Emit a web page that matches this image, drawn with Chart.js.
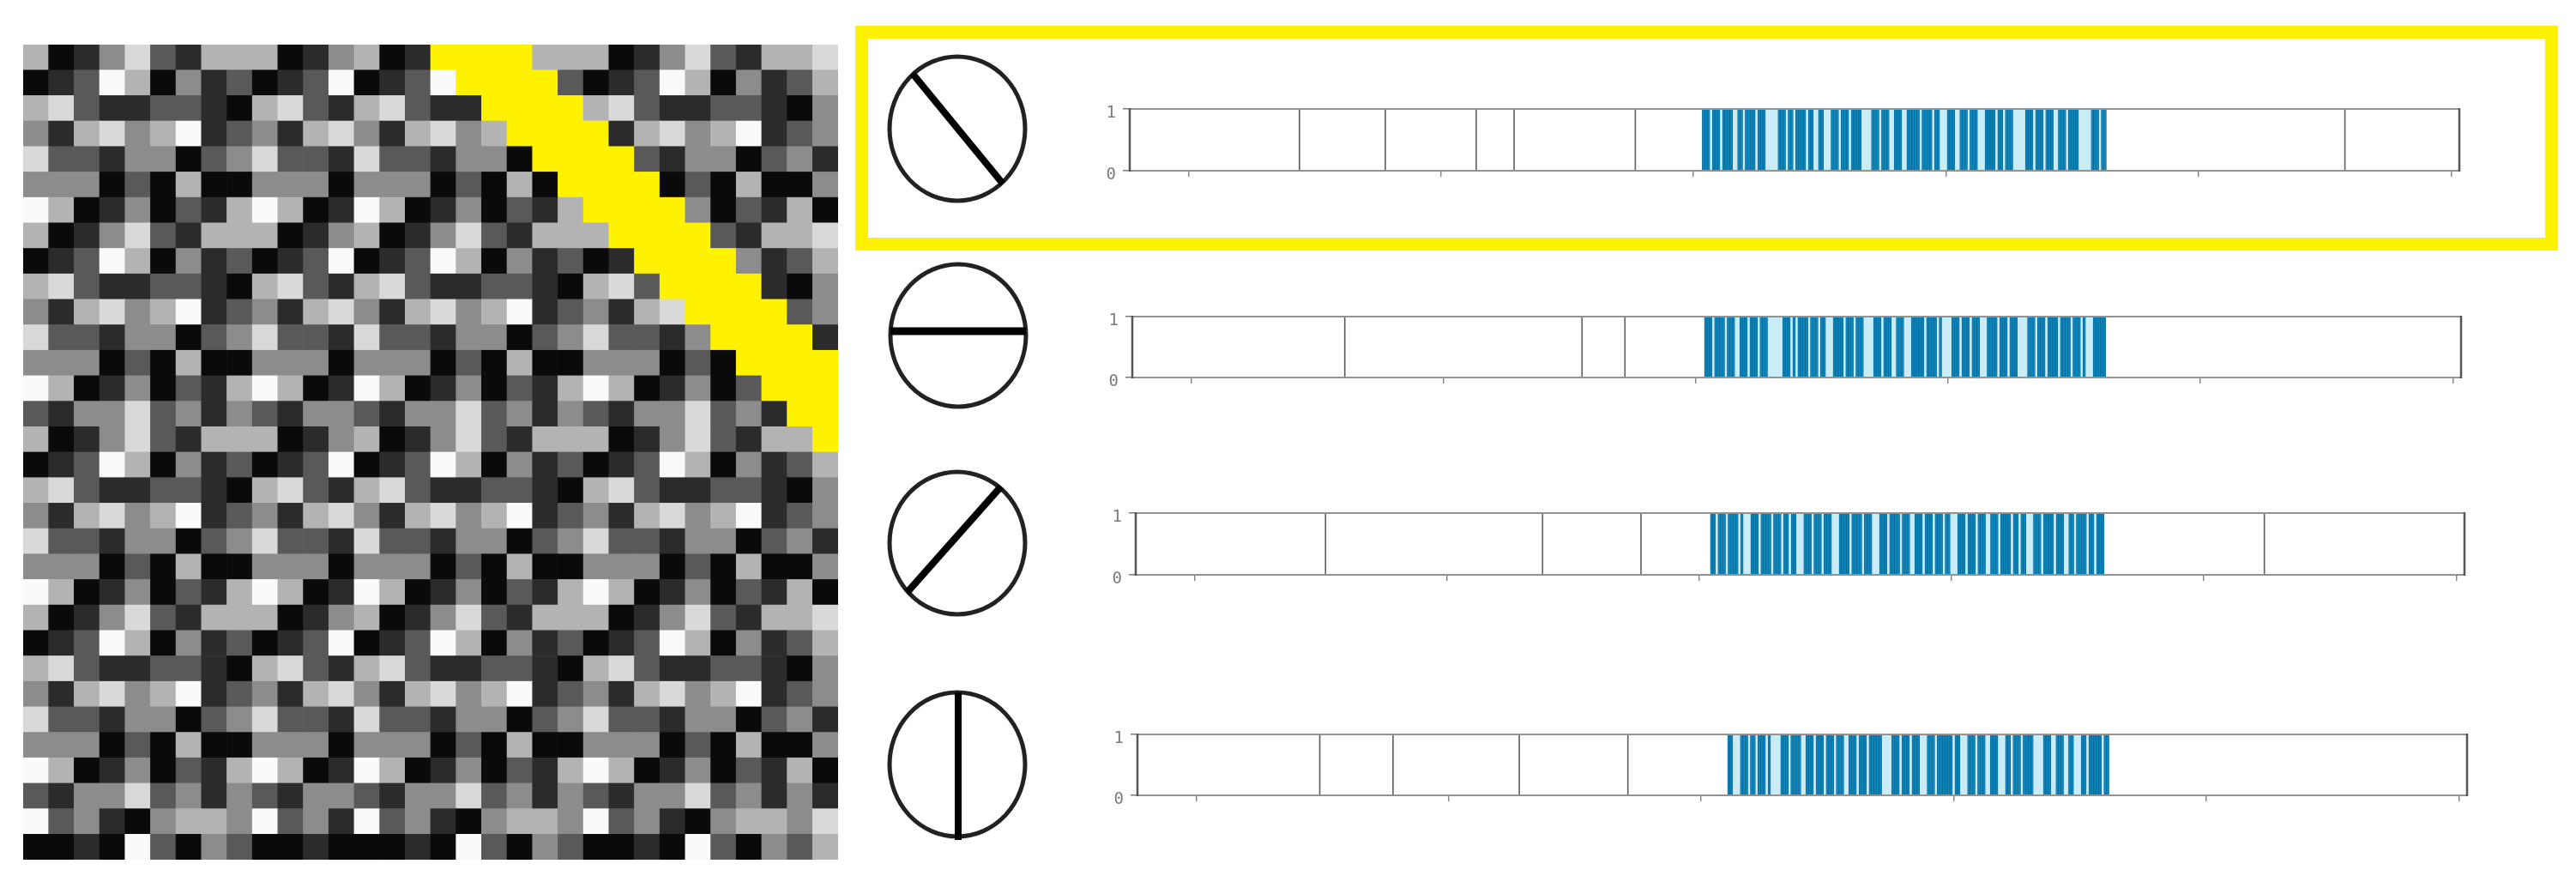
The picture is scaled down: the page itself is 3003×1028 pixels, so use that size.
<!DOCTYPE html>
<html>
<head>
<meta charset="utf-8">
<script src="https://cdn.jsdelivr.net/npm/chart.js@4.4.1/dist/chart.umd.min.js"></script>
<style>
  html, body { margin: 0; padding: 0; background: #ffffff; }
  body { width: 3003px; height: 1028px; position: relative; overflow: hidden; }
  canvas, svg, .highlight { position: absolute; }
  .highlight {
    left: 997px; top: 30px; width: 1985px; height: 262px;
    border: 15px solid #fff200; box-sizing: border-box;
  }
</style>
</head>
<body>

<div class="highlight"></div>

<!-- orientation icons -->
<svg width="3003" height="1028" style="left:0;top:0">
  <g fill="none" stroke="#222" stroke-width="5">
    <ellipse cx="1116" cy="150" rx="79" ry="84"/>
    <ellipse cx="1117" cy="391" rx="79" ry="83"/>
    <ellipse cx="1116" cy="633" rx="79" ry="83"/>
    <ellipse cx="1116" cy="891" rx="79" ry="84"/>
  </g>
  <g stroke="#000" stroke-width="8" stroke-linecap="butt">
    <line x1="1064" y1="86" x2="1169" y2="214"/>
    <line x1="1038" y1="386" x2="1196" y2="386" stroke-width="9"/>
    <line x1="1167" y1="567" x2="1057" y2="691"/>
    <line x1="1117" y1="807" x2="1117" y2="979"/>
  </g>
</svg>

<canvas id="pixels"></canvas>
<canvas id="strip1"></canvas>
<canvas id="strip2"></canvas>
<canvas id="strip3"></canvas>
<canvas id="strip4"></canvas>

<script>
// ---- data ----

// gray level per digit, Y = highlighted pixel
const grayLevels = ['#0a0a0a', '#2b2b2b', '#595959', '#8c8c8c', '#b3b3b3', '#d9d9d9', '#fafafa'];
const highlightColor = '#fff200';

// 32 x 32 pixel image, top row first
const pixelRows = [
  "4013521444013401YYYY444013521445",
  "01264031201260126YYYY20126403124",
  "452112210452145211YYYY4521122103",
  "3145346123145314534YYYY145346123",
  "52213302352215221330YYYY21330231",
  "333020400333033302040YYYY0204003",
  "6401302146401640130214YYYY302140",
  "40135214440134013521444YYYY21445",
  "012640312012601264031201YYYY3124",
  "4521122104521452112210452YYYY103",
  "31453461231453145346123145YYYY23",
  "522133023522152213302352213YYYY1",
  "3330204003330333020400333020YYYY",
  "64013021464016401302146401302YYY",
  "213352313213321335231321335231YY",
  "4013521444013401352144401352144Y",
  "01264031201260126403120126403124",
  "45211221045214521122104521122103",
  "31453461231453145346123145346123",
  "52213302352215221330235221330231",
  "33302040033303330204003330204003",
  "64013021464016401302146401302140",
  "40135214440134013521444013521445",
  "01264031201260126403120126403124",
  "45211221045214521122104521122103",
  "31453461231453145346123145346123",
  "52213302352215221330235221330231",
  "33302040033303330204003330204003",
  "64013021464016401302146401302140",
  "21335231321332133523132133523131",
  "62310344362316231034436231034435",
  "00106203200100010620320010620324"
];

// strip charts: x tick values and y tick labels
const xTickValues = [0, 100, 200, 300, 400, 500];
const yTickLabels = ['0', '1'];

// isolated hits outside the dense window
const sparseHits1 = [44, 78, 114, 129, 177, 458];
const sparseHits2 = [61, 155, 172];
const sparseHits3 = [52, 138, 177, 424];
const sparseHits4 = [49, 78, 128, 171];

// first sample of the dense window
const windowStart1 = 204;
const windowStart2 = 204;
const windowStart3 = 205;
const windowStart4 = 211;

// samples inside the window, 1 = hit
const windowBits1 =
  "111011101111001101111011100000" + "111011011110110011000" + "1110111011110000" +
  "11101110011100" + "1111101111011000" + "111001110111000" + "1111011011100000" +
  "1110111011100" + "1110111100000" + "111011";
const windowBits2 =
  "1110111101110011101110111000000" + "11101011110111011000" + "1111011101110000" +
  "111011100111000" + "1111101111010000" + "11101110111000" + "1111011101110000" +
  "11101110111101111011101000" + "11111";
const windowBits3 =
  "1101110111101000" + "111011110111011011000" + "11101110111000" +
  "1111011110111000" + "11101111011100" + "11101110111011000" + "1110111011100" +
  "11101111011011000" + "11101111011100" + "11011110110111";
const windowBits4 =
  "110001110110111010000" + "111011110011101110111011100" + "11101110111110000" +
  "11101110111000" + "1110111111011000" + "111011100111000" + "110111011110000" +
  "111001110011000" + "11011111011";

// ---- layout ----
const pixelBox = { left: 27, top: 52, width: 950, height: 950 };
const stripBoxes = [
  { left: 1317, top: 127, right: 2867, bottom: 199 },
  { left: 1320, top: 369, right: 2869, bottom: 440 },
  { left: 1324, top: 598, right: 2873, bottom: 670 },
  { left: 1326, top: 856, right: 2876, bottom: 927 }
];
const padLeft = 70, padTop = 20, padRight = 20, padBottom = 30;

document.addEventListener('DOMContentLoaded', function() {
  renderPixels();
  renderStrip('strip1', stripBoxes[0], sparseHits1, windowStart1, windowBits1);
  renderStrip('strip2', stripBoxes[1], sparseHits2, windowStart2, windowBits2);
  renderStrip('strip3', stripBoxes[2], sparseHits3, windowStart3, windowBits3);
  renderStrip('strip4', stripBoxes[3], sparseHits4, windowStart4, windowBits4);
});

function cellColor(ch) {
  return ch === 'Y' ? highlightColor : grayLevels[Number(ch)];
}

function placeCanvas(canvas, left, top, width, height) {
  canvas.width = width;
  canvas.height = height;
  canvas.style.left = left + 'px';
  canvas.style.top = top + 'px';
  canvas.style.width = width + 'px';
  canvas.style.height = height + 'px';
}

// Pixel image: one stacked bar per column, one dataset per row
function renderPixels() {
  const canvas = document.getElementById('pixels');
  placeCanvas(canvas, pixelBox.left, pixelBox.top, pixelBox.width, pixelBox.height);

  const labels = pixelRows[0].split('').map((_, i) => i);

  // stacking starts at the bottom, so feed the last row first
  const datasets = pixelRows.slice().reverse().map((row, i) => ({
    label: 'row ' + (pixelRows.length - 1 - i),
    data: row.split('').map(() => 1),
    backgroundColor: row.split('').map(cellColor),
    borderWidth: 0,
    barPercentage: 1,
    categoryPercentage: 1
  }));

  new Chart(canvas, {
    type: 'bar',
    data: { labels: labels, datasets: datasets },
    options: {
      responsive: false,
      animation: false,
      events: [],
      layout: { padding: 0 },
      plugins: { legend: { display: false }, tooltip: { enabled: false } },
      scales: {
        x: { stacked: true, display: false },
        y: { stacked: true, display: false, min: 0, max: pixelRows.length }
      }
    }
  });
}

// box around the plot area, left and right sides darker
const framePlugin = {
  id: 'frame',
  afterDatasetsDraw(chart) {
    const ctx = chart.ctx;
    const a = chart.chartArea;
    ctx.save();
    ctx.strokeStyle = '#929292';
    ctx.lineWidth = 2;
    ctx.beginPath();
    ctx.moveTo(a.left, a.top);
    ctx.lineTo(a.right, a.top);
    ctx.moveTo(a.left, a.bottom);
    ctx.lineTo(a.right, a.bottom);
    ctx.stroke();
    ctx.strokeStyle = '#555555';
    ctx.lineWidth = 2.5;
    ctx.beginPath();
    ctx.moveTo(a.left, a.top - 1);
    ctx.lineTo(a.left, a.bottom + 1);
    ctx.moveTo(a.right, a.top - 1);
    ctx.lineTo(a.right, a.bottom + 1);
    ctx.stroke();
    ctx.restore();
  }
};

// Strip chart: hits along the scan line
function renderStrip(id, box, hits, start, bits) {
  const canvas = document.getElementById(id);
  const w = box.right - box.left + padLeft + padRight;
  const h = box.bottom - box.top + padTop + padBottom;
  placeCanvas(canvas, box.left - padLeft, box.top - padTop, w, h);

  const windowBars = [];
  const windowHits = [];
  bits.split('').forEach((b, i) => {
    windowBars.push({ x: start + i, y: 1 });
    if (b === '1') windowHits.push({ x: start + i, y: 1 });
  });
  const sparseBars = hits.map(x => ({ x: x, y: 1 }));

  new Chart(canvas, {
    type: 'bar',
    data: {
      datasets: [
        {
          label: 'hits',
          data: windowHits,
          backgroundColor: '#0a87bf',
          borderColor: '#0a6590',
          borderWidth: { left: 0.8, right: 0.8, top: 0, bottom: 0 },
          grouped: false,
          barPercentage: 1,
          categoryPercentage: 1,
          order: 1
        },
        {
          label: 'isolated',
          data: sparseBars,
          backgroundColor: '#5e5e5e',
          borderWidth: 0,
          grouped: false,
          barPercentage: 0.55,
          categoryPercentage: 1,
          order: 1
        },
        {
          label: 'window',
          data: windowBars,
          backgroundColor: '#c9ecf7',
          borderWidth: 0,
          grouped: false,
          barPercentage: 1,
          categoryPercentage: 1,
          order: 2
        }
      ]
    },
    options: {
      responsive: false,
      animation: false,
      events: [],
      layout: { padding: { left: 0, top: padTop, right: padRight, bottom: 0 } },
      plugins: { legend: { display: false }, tooltip: { enabled: false } },
      scales: {
        x: {
          type: 'linear',
          min: -23.2,
          max: 503.3,
          offset: false,
          border: { display: false },
          grid: {
            offset: false,
            drawOnChartArea: false,
            drawTicks: true,
            tickLength: 7,
            color: '#8a8a8a',
            lineWidth: 1.5
          },
          ticks: { display: false, includeBounds: false },
          afterBuildTicks: axis => { axis.ticks = xTickValues.map(v => ({ value: v })); },
          afterFit: axis => { axis.height = padBottom; }
        },
        y: {
          min: 0,
          max: 1,
          border: { display: false },
          grid: {
            drawOnChartArea: false,
            drawTicks: true,
            tickLength: 8,
            color: '#7a7a7a',
            lineWidth: 1.5
          },
          ticks: {
            stepSize: 1,
            padding: 8,
            labelOffset: 5,
            color: '#7a7a7a',
            font: { family: 'DejaVu Sans Mono', size: 19 },
            callback: value => yTickLabels[value]
          },
          afterFit: axis => { axis.width = padLeft; }
        }
      }
    },
    plugins: [framePlugin]
  });
}
</script>
</body>
</html>
